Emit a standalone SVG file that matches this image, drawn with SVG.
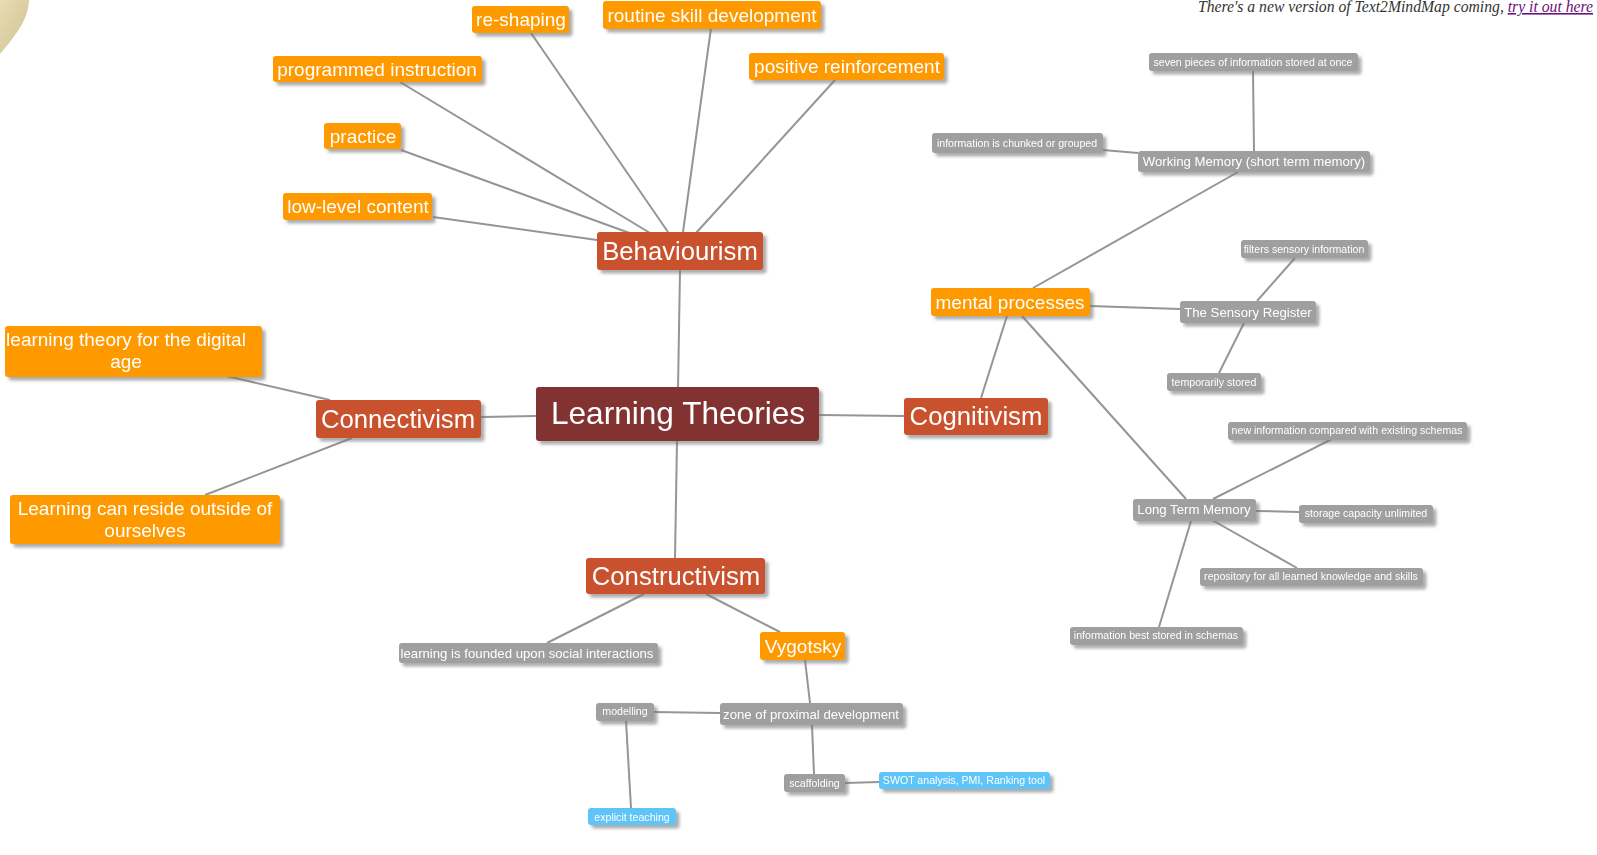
<svg xmlns="http://www.w3.org/2000/svg" width="1597" height="855" viewBox="0 0 1597 855">
<style>
text{font-family:"Liberation Sans",Arial,sans-serif;fill:#fff;text-anchor:middle}
.root{fill:#833232}.main{fill:#c9512d}.org{fill:#ff9900}.gry{fill:#a09f9f}.blu{fill:#5fc4f7}
.t0{font-size:31.600px}.t1{font-size:25.700px}.t2{font-size:19px}.t3{font-size:13.200px}.t4{font-size:10.600px}
#connectors line{stroke:#959595;stroke-width:2}
.n{filter:url(#sh)}
.note{font-family:"Liberation Serif",serif;font-style:italic;font-size:15.700px;fill:#333;text-anchor:end}
</style>
<defs>
<filter id="sh" x="-10%" y="-20%" width="125%" height="150%"><feDropShadow dx="3.500" dy="3.500" stdDeviation="1.400" flood-color="#777" flood-opacity="0.6"/></filter>
<linearGradient id="blob" x1="0" y1="0" x2="1" y2="1"><stop offset="0" stop-color="#e8dcb4"/><stop offset="1" stop-color="#cfc08f"/></linearGradient>
</defs>
<rect width="1597" height="855" fill="#fff"/>
<path d="M0 0H29C28 18 20 30 0 54Z" fill="url(#blob)"/>
<text class="note" x="1593" y="12">There's a new version of Text2MindMap coming, <tspan fill="#6b0f7a" text-decoration="underline">try it out here</tspan></text>
<g id="connectors">
<line x1="680" y1="270" x2="678" y2="389"/><line x1="531" y1="33" x2="668" y2="232"/><line x1="711" y1="28" x2="683" y2="232"/><line x1="835" y1="80" x2="696" y2="233"/><line x1="400" y1="82" x2="650" y2="233"/><line x1="401" y1="150" x2="635" y2="235"/><line x1="433" y1="217" x2="597" y2="240"/>
<line x1="481" y1="417" x2="536" y2="416"/><line x1="222" y1="375" x2="330" y2="400"/><line x1="205" y1="495" x2="352" y2="438"/>
<line x1="819" y1="415" x2="904" y2="416"/><line x1="677" y1="441" x2="675" y2="558"/><line x1="981" y1="398" x2="1007" y2="316"/><line x1="1033" y1="288" x2="1238" y2="172"/><line x1="1253" y1="71" x2="1254" y2="151"/><line x1="1103" y1="150" x2="1138" y2="153"/>
<line x1="1090" y1="306" x2="1180" y2="309"/><line x1="1295" y1="258" x2="1257" y2="301"/><line x1="1219" y1="373" x2="1244" y2="323"/><line x1="1022" y1="316" x2="1186" y2="499"/><line x1="1213" y1="499" x2="1332" y2="439"/><line x1="1256" y1="511" x2="1299" y2="512"/><line x1="1212" y1="520" x2="1297" y2="568"/><line x1="1191" y1="521" x2="1159" y2="627"/>
<line x1="644" y1="594" x2="547" y2="643"/><line x1="706" y1="594" x2="780" y2="632"/><line x1="805" y1="660" x2="810" y2="703"/><line x1="812" y1="725" x2="814" y2="774"/><line x1="654" y1="712" x2="720" y2="713"/><line x1="626" y1="721" x2="631" y2="808"/><line x1="845" y1="783" x2="879" y2="782"/>
</g>
<g id="learning-theories" class="n"><rect class="root" x="536" y="387" width="283" height="54" rx="3"/><text class="t0" x="678" y="424">Learning Theories</text></g>
<g id="behaviourism" class="n"><rect class="main" x="597" y="232" width="166" height="38" rx="3"/><text class="t1" x="680" y="260">Behaviourism</text></g>
<g id="connectivism" class="n"><rect class="main" x="316" y="400" width="165" height="38" rx="3"/><text class="t1" x="398" y="428">Connectivism</text></g>
<g id="cognitivism" class="n"><rect class="main" x="904" y="398" width="144" height="37" rx="3"/><text class="t1" x="976" y="425">Cognitivism</text></g>
<g id="constructivism" class="n"><rect class="main" x="586" y="558" width="179" height="36" rx="3"/><text class="t1" x="676" y="585">Constructivism</text></g>
<g id="re-shaping" class="n"><rect class="org" x="472" y="6" width="97" height="27" rx="3"/><text class="t2" x="521" y="26">re-shaping</text></g>
<g id="routine" class="n"><rect class="org" x="603" y="1" width="218" height="28" rx="3"/><text class="t2" x="712" y="22">routine skill development</text></g>
<g id="positive" class="n"><rect class="org" x="749" y="53" width="195" height="27" rx="3"/><text class="t2" x="847" y="73">positive reinforcement</text></g>
<g id="programmed" class="n"><rect class="org" x="273" y="56" width="209" height="26" rx="3"/><text class="t2" x="377" y="76">programmed instruction</text></g>
<g id="practice" class="n"><rect class="org" x="324" y="123" width="77" height="26" rx="3"/><text class="t2" x="363" y="143">practice</text></g>
<g id="low-level" class="n"><rect class="org" x="283" y="193" width="149" height="27" rx="3"/><text class="t2" x="358" y="213">low-level content</text></g>
<g id="digital-age" class="n"><rect class="org" x="5" y="326" width="257" height="51" rx="3"/><text class="t2" x="126" y="346">learning theory for the digital</text><text class="t2" x="126" y="368">age</text></g>
<g id="reside" class="n"><rect class="org" x="10" y="495" width="270" height="49" rx="3"/><text class="t2" x="145" y="515">Learning can reside outside of</text><text class="t2" x="145" y="537">ourselves</text></g>
<g id="mental" class="n"><rect class="org" x="931" y="288" width="159" height="28" rx="3"/><text class="t2" x="1010" y="309">mental processes</text></g>
<g id="vygotsky" class="n"><rect class="org" x="760" y="632" width="85" height="28" rx="3"/><text class="t2" x="803" y="653">Vygotsky</text></g>
<g id="working" class="n"><rect class="gry" x="1138" y="151" width="232" height="21" rx="3"/><text class="t3" x="1254" y="166">Working Memory (short term memory)</text></g>
<g id="sensory" class="n"><rect class="gry" x="1180" y="301" width="136" height="22" rx="3"/><text class="t3" x="1248" y="317">The Sensory Register</text></g>
<g id="longterm" class="n"><rect class="gry" x="1133" y="499" width="123" height="22" rx="3"/><text class="t3" x="1194" y="514">Long Term Memory</text></g>
<g id="zone" class="n"><rect class="gry" x="720" y="703" width="183" height="22" rx="3"/><text class="t3" x="811" y="719">zone of proximal development</text></g>
<g id="founded" class="n"><rect class="gry" x="399" y="643" width="259" height="20" rx="3"/><text class="t3" x="527" y="658">learning is founded upon social interactions</text></g>
<g id="seven" class="n"><rect class="gry" x="1149" y="53" width="209" height="18" rx="3"/><text class="t4" x="1253" y="65.500">seven pieces of information stored at once</text></g>
<g id="chunked" class="n"><rect class="gry" x="932" y="133" width="171" height="20" rx="3"/><text class="t4" x="1017" y="146.500">information is chunked or grouped</text></g>
<g id="filters" class="n"><rect class="gry" x="1241" y="240" width="127" height="18" rx="3"/><text class="t4" x="1304" y="252.500">filters sensory information</text></g>
<g id="temporarily" class="n"><rect class="gry" x="1167" y="373" width="94" height="18" rx="3"/><text class="t4" x="1214" y="385.500">temporarily stored</text></g>
<g id="new-info" class="n"><rect class="gry" x="1228" y="422" width="239" height="18" rx="3"/><text class="t4" x="1347" y="433.500">new information compared with existing schemas</text></g>
<g id="storage" class="n"><rect class="gry" x="1299" y="505" width="134" height="18" rx="3"/><text class="t4" x="1366" y="516.500">storage capacity unlimited</text></g>
<g id="repository" class="n"><rect class="gry" x="1200" y="568" width="223" height="18" rx="3"/><text class="t4" x="1311" y="579.500">repository for all learned knowledge and skills</text></g>
<g id="best" class="n"><rect class="gry" x="1070" y="627" width="173" height="18" rx="3"/><text class="t4" x="1156" y="639">information best stored in schemas</text></g>
<g id="modelling" class="n"><rect class="gry" x="596" y="703" width="58" height="18" rx="3"/><text class="t4" x="625" y="715">modelling</text></g>
<g id="scaffolding" class="n"><rect class="gry" x="784" y="774" width="61" height="18" rx="3"/><text class="t4" x="814.500" y="786.500">scaffolding</text></g>
<g id="swot" class="n"><rect class="blu" x="879" y="772" width="171" height="17" rx="3"/><text class="t4" x="964" y="784">SWOT analysis, PMI, Ranking tool</text></g>
<g id="explicit" class="n"><rect class="blu" x="588" y="808" width="88" height="17" rx="3"/><text class="t4" x="632" y="820.500">explicit teaching</text></g>
</svg>
